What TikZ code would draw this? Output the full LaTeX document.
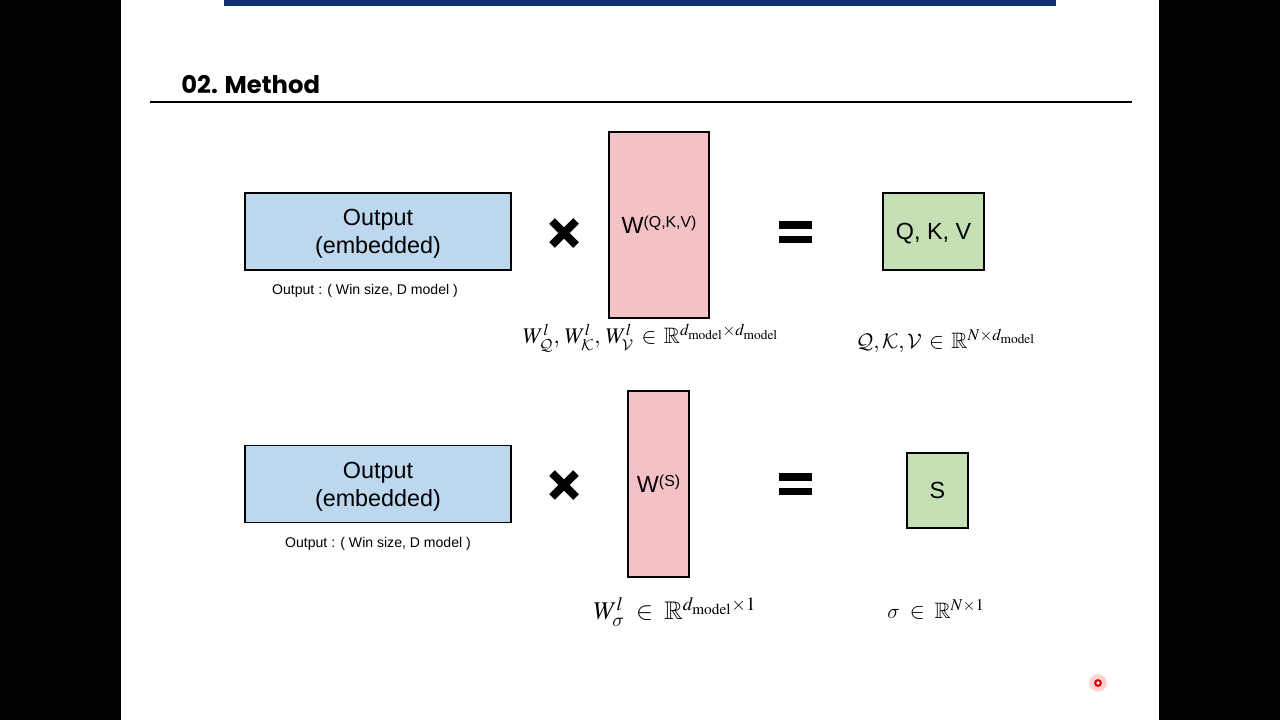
\documentclass[tikz,border=0pt]{standalone}
\usepackage{mathptmx}
\usepackage{amssymb}
\DeclareMathAlphabet{\mathcal}{OMS}{cmsy}{m}{n}
\DeclareSymbolFont{cmletters}{OML}{cmm}{m}{it}
\DeclareMathSymbol{\cmsigma}{\mathord}{cmletters}{27}
\usepackage{fontspec}
\setmainfont{Liberation Sans}
\newfontfamily\titlefont{Poppins}
\usepackage{xcolor}
\usetikzlibrary{positioning}
\definecolor{navy}{RGB}{16,48,107}
\definecolor{inblue}{RGB}{189,215,238}
\definecolor{wpink}{RGB}{244,194,198}
\definecolor{outgreen}{RGB}{197,224,180}

\begin{document}
\begin{tikzpicture}[x=0.02cm, y=-0.02cm,
  inbox/.style={rectangle, draw=black, line width=1.1pt, fill=inblue,
                minimum width=5.32cm, minimum height=1.54cm, align=center,
                text depth=0pt, font=\fontsize{13.3}{16}\selectfont},
  wbox/.style={rectangle, draw=black, line width=1.1pt, fill=wpink,
               minimum height=3.72cm, inner sep=0pt,
               font=\fontsize{13.3}{16}\selectfont},
  outbox/.style={rectangle, draw=black, line width=1.1pt, fill=outgreen,
                 inner sep=0pt, text depth=0pt, font=\fontsize{13.3}{16}\selectfont},
  dimlbl/.style={inner sep=0pt, font=\fontsize{8}{9.6}\selectfont},
  eqn/.style={inner sep=0pt, font=\fontsize{12.7}{15}\selectfont},
  timessign/.style={minimum size=0.6cm, inner sep=0pt,
    path picture={\draw[line width=0.16cm]
      ([shift={(3,3)}]path picture bounding box.north west) --
      ([shift={(-3,-3)}]path picture bounding box.south east);
      \draw[line width=0.16cm]
      ([shift={(-3,3)}]path picture bounding box.north east) --
      ([shift={(3,-3)}]path picture bounding box.south west);}},
  eqsign/.style={minimum width=0.66cm, minimum height=0.44cm, inner sep=0pt,
    path picture={\fill ([yshift=-0.16cm]path picture bounding box.north west)
      rectangle (path picture bounding box.north east);
      \fill (path picture bounding box.south west)
      rectangle ([yshift=0.15cm]path picture bounding box.south east);}}]
  \useasboundingbox (0,0) rectangle (1280,720);
  % slide frame
  \fill[black] (0,0) rectangle (121,720);
  \fill[black] (1159,0) rectangle (1280,720);
  \fill[navy] (224,0) rectangle (1056,5.5);
  \node[anchor=base west, inner sep=0pt, font=\titlefont\bfseries\fontsize{13.8}{16}\selectfont]
    (title) at (181,93) {02. Method};
  \draw[line width=0.7pt] (150,102) -- (1132,102);

  % Q, K, V projection
  \node[inbox] (in1) at (378,231.5) {Output\\(embedded)};
  \node[dimlbl, below=0.27cm of in1, xshift=-0.26cm] (in1dim) {Output : ( Win size, D model )};
  \node[timessign] (x1) at (564,233) {};
  \node[wbox, minimum width=2cm] (wqkv) at (659,225)
    {W\raisebox{0.5ex}{\fontsize{9}{9}\selectfont(Q,K,V)}};
  \node[eqsign] (eq1) at (795.5,232) {};
  \node[outbox, minimum width=2.02cm, minimum height=1.54cm] (qkv) at (933.5,231.5) {Q, K, V};
  \node[eqn] (wqkvdim) at (651,338)
    {$W^l_{\mathcal{Q}},\, W^l_{\mathcal{K}},\, W^l_{\mathcal{V}} \,\in\, \mathbb{R}^{d_{\mathrm{model}}\times d_{\mathrm{model}}}$};
  \node[eqn] (qkvdim) at (946,341)
    {$\mathcal{Q},\mathcal{K},\mathcal{V} \,\in\, \mathbb{R}^{N\times d_{\mathrm{model}}}$};

  % S projection
  \node[inbox] (in2) at (378,484) {Output\\(embedded)};
  \node[dimlbl, below=0.27cm of in2] (in2dim) {Output : ( Win size, D model )};
  \node[timessign] (x2) at (564,485) {};
  \node[wbox, minimum width=1.22cm] (ws) at (658.5,484)
    {W\raisebox{0.5ex}{\fontsize{9}{9}\selectfont(S)}};
  \node[eqsign] (eq2) at (795.5,484) {};
  \node[outbox, minimum width=1.22cm, minimum height=1.5cm] (s) at (937.5,490.5) {S};
  \node[eqn, font=\fontsize{14.5}{17}\selectfont] (wsdim) at (675,612)
    {$W^l_{\cmsigma} \;\in\; \mathbb{R}^{d_{\mathrm{model}}\times 1}$};
  \node[eqn] (sdim) at (936,609)
    {$\cmsigma \;\in\; \mathbb{R}^{N\times 1}$};

  % pointer
  \fill[red!30, opacity=0.6] (1098,683) circle (5pt);
  \draw[red!85!black, line width=1.2pt, fill=white] (1098,683) circle (1.6pt);
\end{tikzpicture}
\end{document}
